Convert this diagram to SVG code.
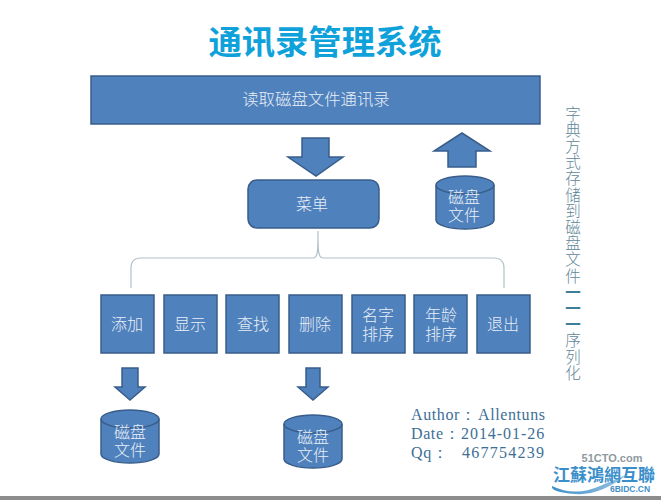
<svg xmlns="http://www.w3.org/2000/svg" width="661" height="500" viewBox="0 0 661 500">
<style>
.b{fill:#4f81bd;stroke:#385d8a;stroke-width:1.5}
.t{fill:#e8eff7;font-family:"Noto Sans CJK SC","Noto Sans",sans-serif;font-size:16px;font-weight:300;text-anchor:middle}
.i{fill:#3d6f96;font-family:"Liberation Serif",serif;font-size:16px;letter-spacing:.6px}
.n{letter-spacing:1.25px}
.v{fill:#5f8799;font-family:"Noto Sans CJK SC",sans-serif;font-size:15.5px;font-weight:300;letter-spacing:.7px;writing-mode:vertical-rl}
.d{font-weight:700;fill:#3f7f96}
.e{fill:none;stroke:#385d8a;stroke-width:1.5}
</style>
<defs>
<g id="cyl"><path class="b" d="M0 9A29 9 0 0 1 58 9V44A29 9 0 0 1 0 44Z"/><path class="e" d="M0 9A29 9 0 0 0 58 9"/></g>
<linearGradient id="sw" x1="0" x2="1"><stop offset="0" stop-color="#3f8fc8"/><stop offset="1" stop-color="#9cc6e2"/></linearGradient>
</defs>
<rect width="661" height="500" fill="#fff"/>
<rect y="496" width="661" height="4" fill="#8c8c8c"/>
<text id="title" x="325" y="54" text-anchor="middle" fill="#0fa2da" font-family="'Noto Sans CJK SC',sans-serif" font-size="33.3" font-weight="700">通讯录管理系统</text>
<g id="connectors">
<path d="M318 231C318 250 318 258 313 258H141Q131 258 131 268V288M318 231C318 250 318 258 323 258H494Q504 258 504 268V288" fill="none" stroke="#b4c1c8" stroke-width="1.2"/>
<path class="b" d="M302 138H329V157H343L316 176L288 157H302Z"/>
<path class="b" d="M448 167V151H434L462 133L490 151H476V167Z"/>
<path class="b" d="M122 368H138V387H145L130 400L115 387H122Z"/>
<path class="b" d="M306 368H320V387H328L313 400L298 387H306Z"/>
</g>
<g id="read"><rect class="b" x="91" y="76" width="449" height="48"/><text class="t" x="316" y="105" style="font-size:16.4px">读取磁盘文件通讯录</text></g>
<g id="menu"><rect class="b" x="248" y="180" width="131" height="48" rx="9"/><text class="t" x="312" y="210">菜单</text></g>
<g id="disk-top"><use href="#cyl" x="436" y="176"/><text class="t" x="464" y="203">磁盘<tspan x="464" dy="18">文件</tspan></text></g>
<g id="add"><rect class="b" x="101" y="295" width="53" height="58"/><text class="t" x="127" y="330">添加</text></g>
<g id="show"><rect class="b" x="164" y="295" width="53" height="58"/><text class="t" x="190" y="330">显示</text></g>
<g id="find"><rect class="b" x="226" y="295" width="53" height="58"/><text class="t" x="253" y="330">查找</text></g>
<g id="del"><rect class="b" x="289" y="295" width="53" height="58"/><text class="t" x="315" y="330">删除</text></g>
<g id="name"><rect class="b" x="352" y="295" width="53" height="58"/><text class="t" x="378" y="321">名字<tspan x="378" dy="19">排序</tspan></text></g>
<g id="age"><rect class="b" x="414" y="295" width="53" height="58"/><text class="t" x="441" y="321">年龄<tspan x="441" dy="19">排序</tspan></text></g>
<g id="quit"><rect class="b" x="477" y="295" width="53" height="58"/><text class="t" x="503" y="330">退出</text></g>
<g id="disk-left"><use href="#cyl" x="101" y="410"/><text class="t" x="130" y="438">磁盘<tspan x="130" dy="18">文件</tspan></text></g>
<g id="disk-right"><use href="#cyl" x="284" y="415"/><text class="t" x="313" y="443">磁盘<tspan x="313" dy="18">文件</tspan></text></g>
<g id="side">
<text class="v" x="573" y="106">字典方式存储到磁盘文件<tspan class="d">一一一</tspan>序列化</text>
</g>
<g id="info">
<text class="i" x="411" y="420">Author：<tspan x="478">Allentuns</tspan></text>
<text class="i" x="411" y="439">Date：<tspan x="461" style="letter-spacing:.95px">2014-01-26</tspan></text>
<text class="i" x="411" y="458">Qq：<tspan x="462" class="n">467754239</tspan></text>
</g>
<g id="watermark">
<text x="612" y="462" text-anchor="middle" fill="#8f9aa0" font-family="'Liberation Sans',sans-serif" font-size="11" font-weight="700">51CTO.com</text>
<path d="M552 486Q575 497 600 486T628 474Q600 496 575 494T552 486Z" fill="url(#sw)"/>
<text x="604" y="481" text-anchor="middle" fill="#3a8fcb" font-family="'Noto Sans CJK TC',sans-serif" font-size="17" font-weight="700">江蘇鴻網互聯</text>
<text x="630" y="492" text-anchor="middle" fill="#3f8fc8" font-family="'Liberation Sans',sans-serif" font-size="8.5" font-weight="700">6BIDC.CN</text>
</g>
</svg>
